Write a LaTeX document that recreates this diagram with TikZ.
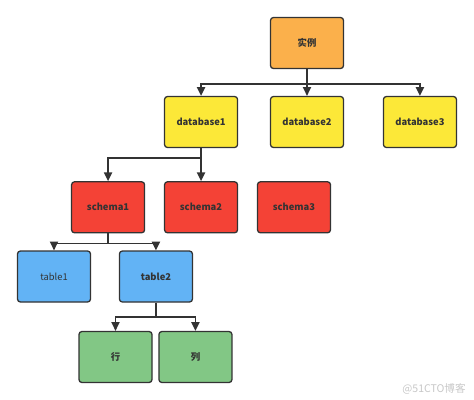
\documentclass[tikz,border=0pt]{standalone}
\usepackage{fontspec}
\setmainfont{Noto Sans CJK SC}
\usepackage{tikz}
\usetikzlibrary{arrows.meta, positioning, calc}

\definecolor{instorange}{HTML}{FBB04B}
\definecolor{dbyellow}{HTML}{FCE838}
\definecolor{schemared}{HTML}{F44236}
\definecolor{tableblue}{HTML}{62B3F5}
\definecolor{colgreen}{HTML}{82C785}
\definecolor{edgegray}{HTML}{333333}

\begin{document}
\begin{tikzpicture}[
        level/.style={
            rectangle,
            rounded corners=2.5pt,
            draw=edgegray,
            line width=1.1pt,
            minimum width=2.19cm,
            minimum height=1.53cm,
            align=center,
            font=\fontsize{8}{10}\selectfont\bfseries,
            text=black!80
        },
        instance/.style={level, fill=instorange},
        database/.style={level, fill=dbyellow},
        schema/.style={level, fill=schemared},
        table/.style={level, fill=tableblue},
        column/.style={level, fill=colgreen},
        wire/.style={draw=edgegray, line width=1.2pt},
        link/.style={
            wire,
            -{Triangle[length=7.5pt, width=7pt]}
        }
    ]

    % Canvas
    \useasboundingbox (0,0) rectangle (14.22,-12);

    % Instance
    \node[instance] (inst) at (9.21,-1.29) {实例};

    % Databases
    \node[database] (db2) at (9.21,-3.66) {database2};
    \node[database, left=0.95cm of db2] (db1) {database1};
    \node[database, right=1.16cm of db2] (db3) {database3};

    % Schemas
    \node[schema, below=0.99cm of db1] (sc2) {schema2};
    \node[schema, left=0.56cm of sc2] (sc1) {schema1};
    \node[schema, right=0.56cm of sc2] (sc3) {schema3};

    % Tables
    \node[table, font=\fontsize{8}{10}\selectfont] (tb1) at (1.62,-8.295) {table1};
    \node[table, right=0.83cm of tb1] (tb2) {table2};

    % Rows and columns
    \node[column] (row) at (3.465,-10.71) {行};
    \node[column, right=0.17cm of row] (col) {列};

    % Instance -> databases
    \coordinate (instbar) at ($(inst.south)+(0,-0.45)$);
    \draw[wire] (inst.south) -- (instbar);
    \draw[link] (instbar) -| (db1.north);
    \draw[link] (instbar) -- (db2.north);
    \draw[link] (instbar) -| (db3.north);

    % Database1 -> schemas
    \coordinate (dbbar) at ($(db1.south)+(0,-0.3)$);
    \draw[wire] (db1.south) -- (dbbar);
    \draw[link] (dbbar) -| (sc1.north);
    \draw[link] (dbbar) -- (sc2.north);

    % Schema1 -> tables
    \coordinate (scbar) at ($(sc1.south)+(0,-0.3)$);
    \draw[wire] (sc1.south) -- (scbar);
    \draw[link] (scbar) -| (tb1.north);
    \draw[link] (scbar) -| (tb2.north);

    % Table2 -> row / column
    \coordinate (tbbar) at ($(tb2.south)+(0,-0.43)$);
    \draw[wire] (tb2.south) -- (tbbar);
    \draw[link] (tbbar) -| (row.north);
    \draw[link] (tbbar) -| (col.north);

    % Watermark
    \node[font=\fontsize{9}{10}\selectfont, text=black!22] (mark) at (13.02,-11.67) {@51CTO博客};

\end{tikzpicture}
\end{document}
